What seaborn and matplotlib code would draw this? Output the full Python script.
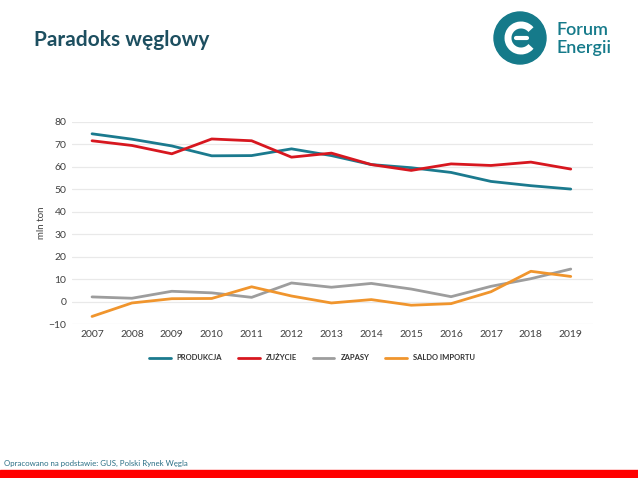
import numpy as np
import pandas as pd
import seaborn as sns
import matplotlib.pyplot as plt
from matplotlib.patches import Circle, Arc, Rectangle

# dane (mln ton)
years = [2007, 2008, 2009, 2010, 2011, 2012, 2013, 2014, 2015, 2016, 2017, 2018, 2019]
produkcja = [74.7, 72.3, 69.3, 64.9, 65.0, 68.0, 65.0, 61.0, 59.6, 57.5, 53.5, 51.6, 50.1]
zuzycie = [71.6, 69.5, 65.8, 72.4, 71.6, 64.3, 66.1, 61.0, 58.4, 61.3, 60.6, 62.1, 59.0]
zapasy = [2.1, 1.5, 4.6, 3.9, 1.9, 8.3, 6.4, 8.1, 5.6, 2.2, 6.8, 10.2, 14.5]
saldo_importu = [-6.6, -0.6, 1.3, 1.4, 6.6, 2.5, -0.6, 0.9, -1.6, -0.9, 4.4, 13.5, 11.2]

series = ["PRODUKCJA", "ZUŻYCIE", "ZAPASY", "SALDO IMPORTU"]
colors = ["#1b7a8e", "#d7171f", "#9d9d9d", "#f0952d"]

df = pd.DataFrame({"rok": years, "PRODUKCJA": produkcja, "ZUŻYCIE": zuzycie,
                   "ZAPASY": zapasy, "SALDO IMPORTU": saldo_importu})
long = df.melt(id_vars="rok", var_name="seria", value_name="wartosc")

sns.set_theme(style="white")
plt.rcParams["font.family"] = ["Lato", "DejaVu Sans"]

fig = plt.figure(figsize=(6.38, 4.78), dpi=100)
ax = fig.add_axes([0.113, 0.322, 0.816, 0.423])

sns.lineplot(data=long, x="rok", y="wartosc", hue="seria", hue_order=series,
             palette=colors, linewidth=2, ax=ax)

ax.set_xlim(2006.5, 2019.55)
ax.set_ylim(-10, 80)
ax.set_xticks(years)
ax.set_yticks(range(-10, 81, 10))
ax.tick_params(axis="both", labelsize=7.5, colors="#404040", length=0, pad=4)
ax.grid(axis="y", color="#e9e9e9", linewidth=0.9)
ax.set_axisbelow(True)
for s in ax.spines.values():
    s.set_visible(False)
ax.set_xlabel("")
ax.set_ylabel("mln ton", fontsize=7, color="#404040", labelpad=2)

ax.legend(loc="upper center", bbox_to_anchor=(0.461, -0.115), ncol=4, frameon=False,
          handlelength=2.8, columnspacing=2.1,
          prop={"weight": "bold", "size": 5.5})
for t in ax.get_legend().get_texts():
    t.set_color("#333333")

# tytul
fig.text(34 / 638, 1 - 40 / 478, "Paradoks węglowy", fontsize=15, fontweight="bold",
         color="#1d4f60", va="center", ha="left")

# logo
lax = fig.add_axes([0, 0, 1, 1], zorder=-1)
lax.set_xlim(0, 638)
lax.set_ylim(478, 0)
lax.axis("off")
lax.add_patch(Circle((520, 38), 26, color="#157a8a"))
lax.add_patch(Arc((521, 38), 26, 26, theta1=40, theta2=320, color="white", linewidth=5))
lax.plot([516, 527], [38, 38], color="white", linewidth=3, solid_capstyle="round")
lax.text(557, 30, "Forum", fontsize=13, fontweight="semibold", color="#157a8a",
         va="center", ha="left")
lax.text(557, 48, "Energii", fontsize=13, fontweight="semibold", color="#157a8a",
         va="center", ha="left")

# stopka
lax.text(4, 463, "Opracowano na podstawie: GUS, Polski Rynek Węgla", fontsize=5.7,
         color="#2a6f85", va="center", ha="left")
lax.add_patch(Rectangle((0, 470), 638, 8, color="#ff0000"))

fig.savefig("out.png", dpi=100)
